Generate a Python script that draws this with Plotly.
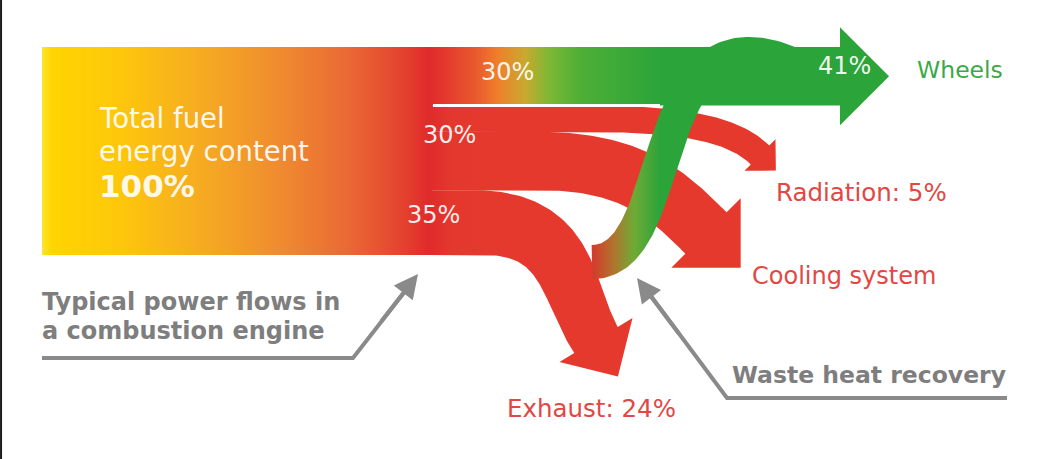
import numpy as np
import plotly.graph_objects as go

# ---------------- data ----------------
total_share = 100                                   # total fuel energy content, %
branch_names = ["Wheels", "Radiation", "Cooling system", "Exhaust"]
branch_share = [30, 5, 30, 35]                      # split leaving the engine block, %
recovered_share = 11                                # waste heat recovered exhaust -> wheels, %
wheels_final = 41                                   # finally delivered to the wheels, %
exhaust_final = 24                                  # finally lost with the exhaust, %
block_title = ["Total fuel", "energy content"]
note_engine = ["Typical power flows in", "a combustion engine"]
note_recovery = "Waste heat recovery"

# ---------------- visual encoding / layout ----------------
W, H = 1048, 459
MIN_W, PX_PER_PCT = 20.0, 1.28          # ribbon thickness = MIN_W + PX_PER_PCT * share


def thick(v):
    return MIN_W + PX_PER_PCT * v


BLOCK_X0, BLOCK_X1, BLOCK_Y0 = 42, 432, 47
SPLIT_X = 428
HEAD_K = 1.68

RED = "#E5392E"
GREEN = "#2BA53A"
FONT = "DejaVu Sans"
TXT_RED = "#E24744"
TXT_GREEN = "#3AA947"
GRAY = "#7E7E7E"
ARROW_GRAY = "#8A8A8A"

widths = [thick(v) for v in branch_share]
edges = BLOCK_Y0 + np.concatenate([[0], np.cumsum(widths)])
centers = (edges[:-1] + edges[1:]) / 2
BLOCK_Y1 = edges[-1]


def unit(v):
    v = np.asarray(v, float)
    return v / np.linalg.norm(v)


def bezier(p0, p1, p2, p3, n=80):
    t = np.linspace(0, 1, n)[:, None]
    p0, p1, p2, p3 = map(lambda p: np.asarray(p, float), (p0, p1, p2, p3))
    return (1 - t) ** 3 * p0 + 3 * (1 - t) ** 2 * t * p1 + 3 * (1 - t) * t ** 2 * p2 + t ** 3 * p3


def flow_center(yc, x_bend, reach, end, d_end, pull, n=80):
    straight = np.column_stack([np.linspace(SPLIT_X, x_bend, 20, endpoint=False), np.full(20, yc)])
    end = np.asarray(end, float)
    curve = bezier((x_bend, yc), (x_bend + reach, yc), end - unit(d_end) * pull, end, n)
    return straight, curve


def ribbon(center, half, head_half=None, head_len=None):
    d = np.gradient(center, axis=0)
    d = d / np.linalg.norm(d, axis=1)[:, None]
    nrm = np.column_stack([-d[:, 1], d[:, 0]])
    left = center + nrm * half[:, None]
    right = center - nrm * half[:, None]
    parts = [left]
    if head_half is not None:
        E, dE, nE = center[-1], d[-1], nrm[-1]
        parts += [[E + nE * head_half], [E + dE * head_len], [E - nE * head_half]]
    parts += [right[::-1], left[:1]]
    return np.vstack(parts)


def poly_trace(poly, color=None, gradient=None):
    kw = dict(x=poly[:, 0], y=poly[:, 1], mode="lines", fill="toself",
              line=dict(width=0, color="rgba(0,0,0,0)"), hoverinfo="skip", showlegend=False)
    if gradient is not None:
        kw["fillgradient"] = gradient
        kw["fillcolor"] = gradient["colorscale"][-1][1]
    else:
        kw["fillcolor"] = color
    return go.Scatter(**kw)


fig = go.Figure()

# ---- engine block (100 %) ----
block = np.array([[BLOCK_X0, BLOCK_Y0], [BLOCK_X1, BLOCK_Y0], [BLOCK_X1, BLOCK_Y1],
                  [BLOCK_X0, BLOCK_Y1], [BLOCK_X0, BLOCK_Y0]], float)
fig.add_trace(poly_trace(block, gradient=dict(
    type="horizontal", start=BLOCK_X0, stop=BLOCK_X1,
    colorscale=[[0, "#FBE62B"], [0.025, "#FFD500"], [0.2, "#FDC70B"], [0.4, "#F6AC21"],
                [0.6, "#F08D2F"], [0.78, "#EA6A34"], [0.9, "#E54A30"], [1, "#E0282B"]])))

red_grad = dict(type="horizontal", start=SPLIT_X, stop=SPLIT_X + 60,
                colorscale=[[0, "#DF2A2B"], [0.4, "#E4382E"], [1, RED]])

# ---- exhaust (combined with the recovered part until it branches) ----
w_ex0, w_ex1 = widths[3], thick(exhaust_final)
d_ex = unit((0.52, 0.85))
s, c = flow_center(centers[3], 478, 92, (596, 340), d_ex, 58)
ctr = np.vstack([s, c])
half = np.concatenate([np.full(len(s), w_ex0 / 2), np.linspace(w_ex0, w_ex1, len(c)) / 2])
fig.add_trace(poly_trace(ribbon(ctr, half, HEAD_K * w_ex1 / 2, HEAD_K * w_ex1 / 2), gradient=red_grad))

# ---- cooling system ----
d45 = unit((1, 1))
s, c = flow_center(centers[2], 540, 95, (706, 233), d45, 50)
ctr = np.vstack([s, c])
half = np.full(len(ctr), widths[2] / 2)
fig.add_trace(poly_trace(ribbon(ctr, half, HEAD_K * widths[2] / 2, HEAD_K * widths[2] / 2), gradient=red_grad))

# ---- radiation ----
s, c = flow_center(centers[1], 580, 90, (760, 155), d45, 42)
ctr = np.vstack([s, c])
half = np.full(len(ctr), widths[1] / 2)
fig.add_trace(poly_trace(ribbon(ctr, half, HEAD_K * widths[1] / 2, HEAD_K * widths[1] / 2), gradient=red_grad))

# ---- wheels (straight band into the big arrow) ----
ctr = np.column_stack([np.linspace(SPLIT_X, 840, 60), np.full(60, centers[0])])
half = np.full(len(ctr), widths[0] / 2)
fig.add_trace(poly_trace(ribbon(ctr, half, HEAD_K * widths[0] / 2, HEAD_K * widths[0] / 2), gradient=dict(
    type="horizontal", start=SPLIT_X, stop=660,
    colorscale=[[0, "#DF2A2B"], [0.08, "#E4392E"], [0.22, "#EA5E2D"], [0.3, "#EF7F2B"],
                [0.42, "#C8A92F"], [0.52, "#7EB834"], [0.66, "#4DAE36"], [1, GREEN]])))

# separator between the wheels band and the lower bands
fig.add_trace(go.Scatter(x=[BLOCK_X1 + 1, 660], y=[edges[1], edges[1]], mode="lines",
                         line=dict(color="white", width=3), hoverinfo="skip", showlegend=False))

# ---- waste heat recovery tube (exhaust -> wheels) ----
w_rec = thick(recovered_share)
ctr = bezier((592, 262), (682, 262), (640, 0), (792, edges[0] + w_rec / 2), 140)
half = np.full(len(ctr), w_rec / 2)
fig.add_trace(poly_trace(ribbon(ctr, half), gradient=dict(
    type="horizontal", start=594, stop=660,
    colorscale=[[0, "#D23E2C"], [0.3, "#B0752F"], [0.6, "#6FAA35"], [1, GREEN]])))

# ---- grey pointer lines ----
fig.add_trace(go.Scatter(x=[42, 353, 410], y=[358, 358, 285], mode="lines",
                         line=dict(color=ARROW_GRAY, width=4), hoverinfo="skip", showlegend=False))
fig.add_trace(go.Scatter(x=[1007, 727, 645], y=[398, 398, 288], mode="lines",
                         line=dict(color=ARROW_GRAY, width=4), hoverinfo="skip", showlegend=False))

ann = []


def text(x, y, s, color, size, bold=False, xanchor="left"):
    ann.append(dict(x=x, y=y, xref="x", yref="y", text=f"<b>{s}</b>" if bold else s,
                    showarrow=False, xanchor=xanchor, yanchor="middle",
                    font=dict(family=FONT, size=size, color=color)))


# arrow heads of the grey pointers
for (tx, ty, fx, fy) in [(418, 274, 380, 323), (637, 278, 680, 335)]:
    ann.append(dict(x=tx, y=ty, ax=fx, ay=fy, xref="x", yref="y", axref="x", ayref="y",
                    text="", showarrow=True, arrowhead=2, arrowsize=1.2, arrowwidth=4,
                    arrowcolor=ARROW_GRAY))

WHITE = "rgba(255,255,255,0.93)"
text(97, 118, block_title[0], WHITE, 27.5)
text(97, 151, block_title[1], WHITE, 27.5)
text(97, 186, f"{total_share}%", WHITE, 31, bold=True)
text(479, 72, f"{branch_share[0]}%", WHITE, 24)
text(421, 135, f"{branch_share[2]}%", WHITE, 24)
text(405, 215, f"{branch_share[3]}%", WHITE, 24)
text(816, 66, f"{wheels_final}%", WHITE, 24)
text(915, 70, branch_names[0], TXT_GREEN, 23.5)
text(774, 192, f"{branch_names[1]}: {branch_share[1]}%", TXT_RED, 24.5)
text(750, 276, branch_names[2], TXT_RED, 24)
text(505, 408, f"{branch_names[3]}: {exhaust_final}%", TXT_RED, 24.5)
text(40, 302, note_engine[0], GRAY, 24, bold=True)
text(40, 331, note_engine[1], GRAY, 24, bold=True)
text(1008, 375, note_recovery, GRAY, 23.5, bold=True, xanchor="right")

fig.update_layout(
    width=W, height=H, margin=dict(l=0, r=0, t=0, b=0),
    paper_bgcolor="white", plot_bgcolor="white",
    xaxis=dict(range=[0, W], visible=False, fixedrange=True),
    yaxis=dict(range=[H, 0], visible=False, fixedrange=True),
    annotations=ann,
    shapes=[dict(type="line", xref="paper", yref="paper", x0=0.001, x1=0.001, y0=0, y1=1,
                 line=dict(color="#1A1A1A", width=2))],
    showlegend=False,
)

fig.write_html("out.html", config={"displayModeBar": False},
               post_script="document.body.style.margin='0';document.body.style.overflow='hidden';")
